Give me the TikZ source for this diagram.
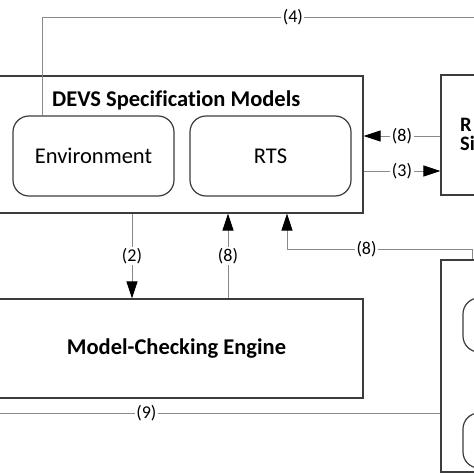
\documentclass[tikz,border=0pt]{standalone}
\usepackage{fontspec}
\setmainfont{Carlito}[Ligatures=NoCommon]
\usetikzlibrary{arrows.meta}
\definecolor{boxgray}{HTML}{3C3C3C}
\definecolor{linegray}{HTML}{8A8A8A}
\begin{document}
\begin{tikzpicture}[x=1pt,y=-1pt,
  box/.style={draw=boxgray, line width=1.2pt, minimum width=#1, inner sep=0pt},
  rbox/.style={draw=boxgray, line width=1.2pt, rounded corners=16pt, inner sep=0pt},
  conn/.style={draw=linegray, line width=1pt},
  arr/.style={conn, -{Triangle[length=17pt,width=11pt,color=black]}},
  lbl/.style={fill=white, inner sep=1.5pt, text=black, font=\fontsize{18}{20}\selectfont},
  titletext/.style={font=\fontsize{22.5}{24}\selectfont\bfseries},
  plaintext/.style={font=\fontsize{22.5}{24}\selectfont},
  sidetext/.style={font=\fontsize{20.5}{20}\selectfont\bfseries, inner sep=0pt}
]
\useasboundingbox (0,0) rectangle (474,474);
\clip (0,0) rectangle (474,474);
\fill[white] (0,0) rectangle (474,474);

% boxes
\node[box=373pt, minimum height=137pt] (devs) at (176.5,144.5) {};
\node[titletext, anchor=base west, inner sep=0pt] (devst) at (52,106) {DEVS Specification Models};
\node[rbox, minimum width=161pt, minimum height=80pt, plaintext] (env) at (93.5,156) {Environment};
\node[rbox, minimum width=161pt, minimum height=80pt, plaintext] (rts) at (270.5,156) {RTS};

\node[box=60pt, minimum height=120pt] (rs) at (471,135) {};
\node[sidetext, anchor=base west] (rs1) at (460,131) {R};
\node[sidetext, anchor=base west] (rs2) at (460,150) {Si};

\node[box=373pt, minimum height=99pt, titletext] (mce) at (176.5,348.5) {Model-Checking Engine};

\node[box=60pt, minimum height=212pt] (br) at (471,366) {};
\node[rbox, minimum width=60pt, minimum height=54pt] (in1) at (493,325) {};
\node[rbox, minimum width=60pt, minimum height=55pt] (in2) at (493,440.5) {};

% connector coordinates
\coordinate (k4) at (42,17);
\coordinate (e4) at (490,17);
\coordinate (y8) at (0,136);
\coordinate (y3) at (0,171);
\coordinate (x2) at (132,0);
\coordinate (x8) at (228,0);
\coordinate (xa) at (287,249);
\coordinate (xb) at (472,249);
\coordinate (c9) at (-5,413);

% connectors
\draw[conn] (k4 |- env.north) -- (k4) -- node[lbl, pos=0.56] {(4)} (e4);
\draw[arr] (rs.west |- y8) -- node[lbl] {(8)} (devs.east |- y8);
\draw[arr] (devs.east |- y3) -- node[lbl] {(3)} (rs.west |- y3);
\draw[arr] (devs.south -| x2) -- node[lbl] {(2)} (mce.north -| x2);
\draw[arr] (mce.north -| x8) -- node[lbl] {(8)} (devs.south -| x8);
\draw[arr] (br.north -| xb) -- (xb) -- node[lbl, pos=0.57] {(8)} (xa) -- (devs.south -| xa);
\draw[conn] (c9) -- node[lbl, pos=0.34] {(9)} (br.west |- c9);
\end{tikzpicture}
\end{document}
